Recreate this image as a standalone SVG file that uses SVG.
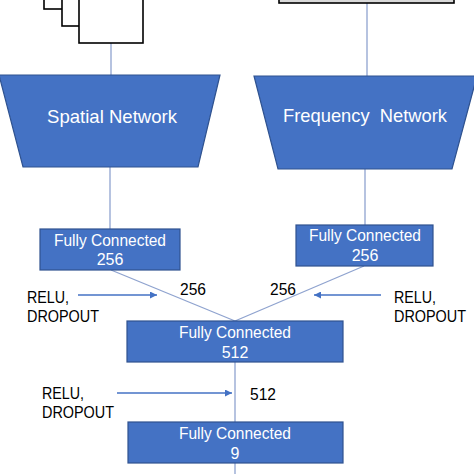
<svg xmlns="http://www.w3.org/2000/svg" width="474" height="474" viewBox="0 0 474 474">
<style>
.blk{fill:#4472C4;stroke:#2F528F;stroke-width:1.2}
.wt{fill:#ffffff;font-family:"Liberation Sans",Arial,sans-serif;font-size:16px;text-anchor:middle}
.big{font-size:19px}
.bt{fill:#000000;font-family:"Liberation Sans",Arial,sans-serif;font-size:16px}
.ln{stroke:#8FA3CF;stroke-width:1.3;fill:none}
.ar{stroke:#4472C4;stroke-width:1.3;fill:none}
.sq{fill:#ffffff;stroke:#000000;stroke-width:1.6}
</style>
<defs>
<marker id="ah" viewBox="0 0 10 10" refX="10" refY="5" markerWidth="8" markerHeight="7" markerUnits="userSpaceOnUse" orient="auto">
<path d="M0,0 L10,5 L0,10 z" fill="#4472C4"/>
</marker>
</defs>
<rect width="474" height="474" fill="#ffffff"/>
<g id="connectors">
<line class="ln" x1="111" y1="43" x2="111" y2="76"/>
<line class="ln" x1="367" y1="3" x2="367" y2="77"/>
<line class="ln" x1="110" y1="167" x2="110" y2="229"/>
<line class="ln" x1="365" y1="169" x2="365" y2="225"/>
<line class="ln" x1="111" y1="270" x2="235" y2="321"/>
<line class="ln" x1="364" y1="266" x2="235" y2="321"/>
<line class="ln" x1="235" y1="362" x2="235" y2="422"/>
<line class="ln" x1="235" y1="463" x2="235" y2="474"/>
<line class="ar" x1="78" y1="295" x2="157" y2="295" marker-end="url(#ah)"/>
<line class="ar" x1="381" y1="295" x2="314" y2="295" marker-end="url(#ah)"/>
<line class="ar" x1="117" y1="393" x2="232" y2="393" marker-end="url(#ah)"/>
</g>
<g id="input-images">
<rect class="sq" x="44" y="-55" width="64" height="64"/>
<rect class="sq" x="62" y="-38" width="64" height="64"/>
<rect class="sq" x="79" y="-21" width="64" height="64"/>
</g>
<g id="input-frequency">
<rect x="279" y="-20" width="175" height="23" fill="#D9D9D9" stroke="#000000" stroke-width="1.6"/>
</g>
<g id="spatial-network">
<polygon class="blk" points="-1,75 220,75 198,167 23,167"/>
<text class="wt big" x="112" y="123" textLength="130" lengthAdjust="spacingAndGlyphs">Spatial Network</text>
</g>
<g id="frequency-network">
<polygon class="blk" points="254,76 477,76 452,169 278,169"/>
<text class="wt big" x="365" y="122" textLength="164" lengthAdjust="spacingAndGlyphs" xml:space="preserve">Frequency  Network</text>
</g>
<g id="fc-spatial">
<rect class="blk" x="40" y="229" width="140" height="41"/>
<text class="wt" x="110" y="246" textLength="112" lengthAdjust="spacingAndGlyphs">Fully Connected</text>
<text class="wt" x="110" y="265">256</text>
</g>
<g id="fc-frequency">
<rect class="blk" x="296" y="225" width="137" height="41"/>
<text class="wt" x="365" y="241" textLength="112" lengthAdjust="spacingAndGlyphs">Fully Connected</text>
<text class="wt" x="365" y="261">256</text>
</g>
<g id="fc-512">
<rect class="blk" x="127" y="321" width="216" height="41"/>
<text class="wt" x="235" y="338" textLength="112" lengthAdjust="spacingAndGlyphs">Fully Connected</text>
<text class="wt" x="235" y="358">512</text>
</g>
<g id="fc-9">
<rect class="blk" x="128" y="422" width="215" height="41"/>
<text class="wt" x="235" y="439" textLength="112" lengthAdjust="spacingAndGlyphs">Fully Connected</text>
<text class="wt" x="235" y="459">9</text>
</g>
<g id="labels">
<text class="bt" x="180" y="295" textLength="26" lengthAdjust="spacingAndGlyphs">256</text>
<text class="bt" x="270" y="295" textLength="26" lengthAdjust="spacingAndGlyphs">256</text>
<text class="bt" x="250" y="400" textLength="26" lengthAdjust="spacingAndGlyphs">512</text>
<text class="bt" x="27" y="303" textLength="42" lengthAdjust="spacingAndGlyphs">RELU,</text>
<text class="bt" x="27" y="322" textLength="72" lengthAdjust="spacingAndGlyphs">DROPOUT</text>
<text class="bt" x="394" y="303" font-size="15" textLength="42" lengthAdjust="spacingAndGlyphs">RELU,</text>
<text class="bt" x="394" y="322" font-size="15" textLength="72" lengthAdjust="spacingAndGlyphs">DROPOUT</text>
<text class="bt" x="42" y="399" textLength="42" lengthAdjust="spacingAndGlyphs">RELU,</text>
<text class="bt" x="42" y="418" textLength="72" lengthAdjust="spacingAndGlyphs">DROPOUT</text>
</g>
</svg>
